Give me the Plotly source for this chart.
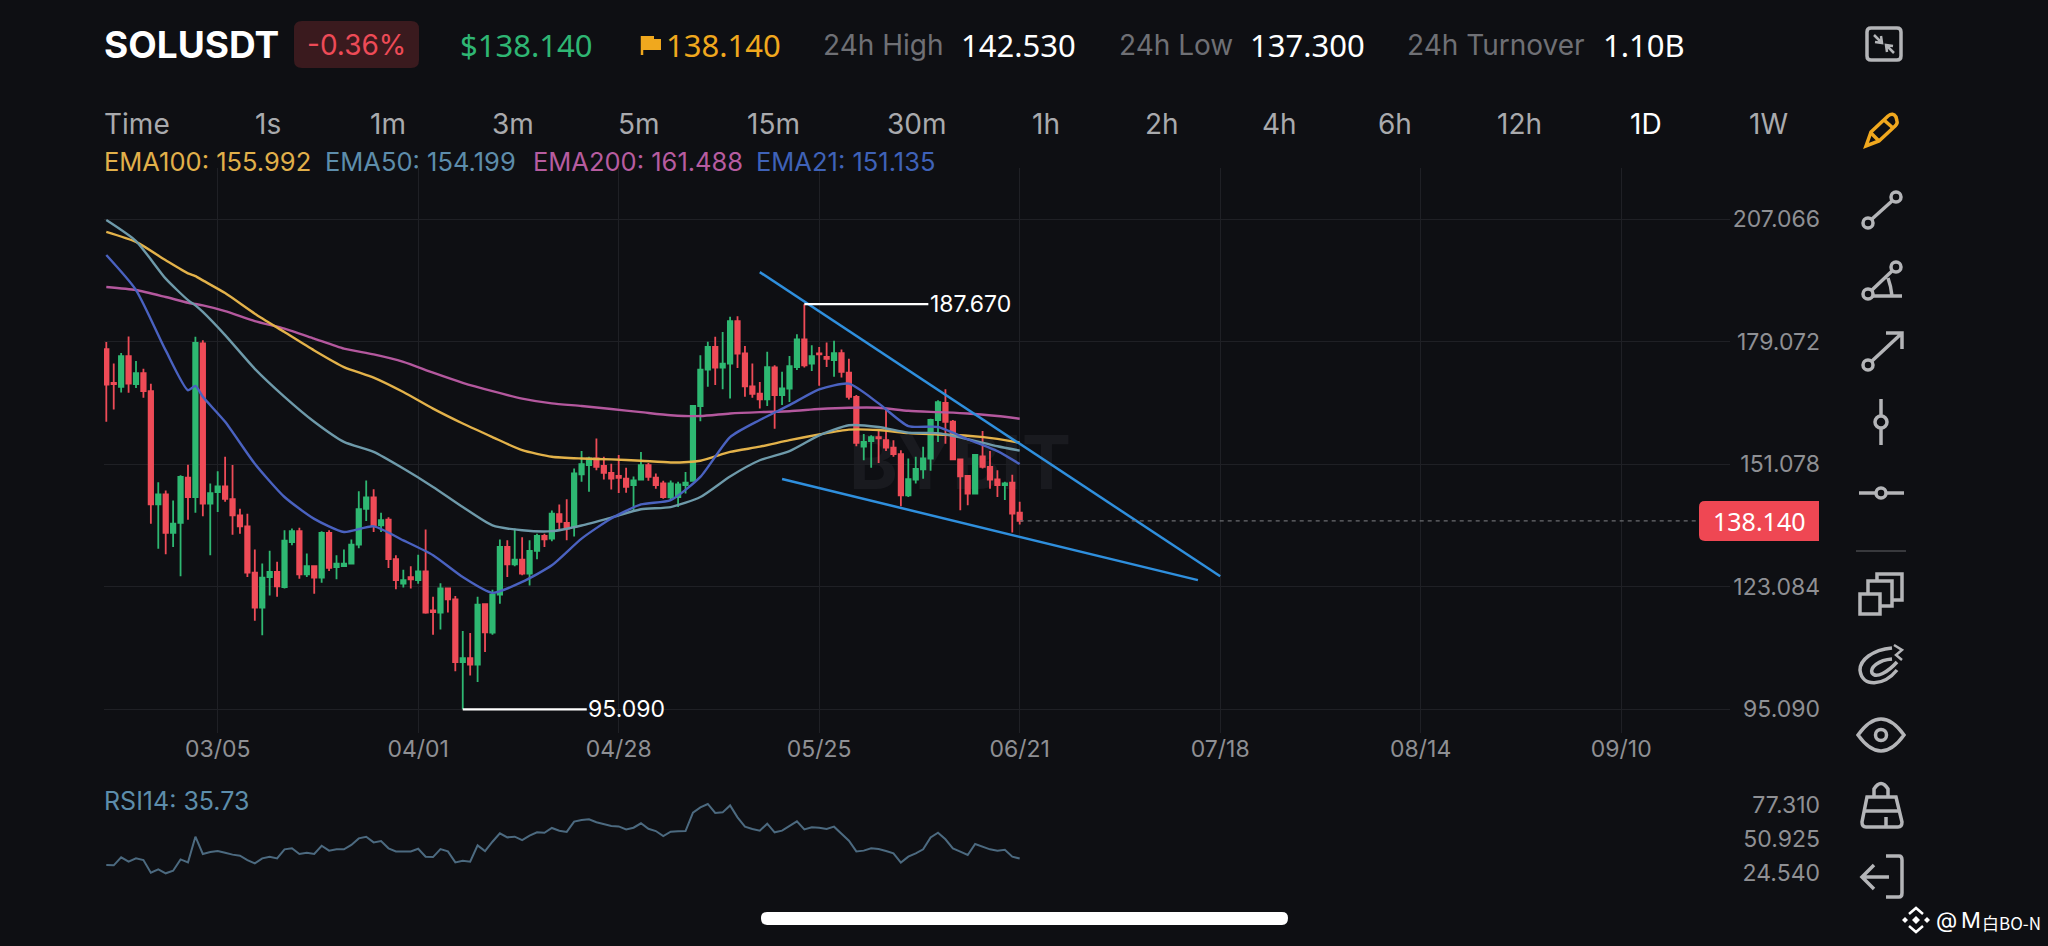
import re
import pandas as pd
import plotly.graph_objects as go

W, H = 2048, 946
FONT = "Inter"
NUM_FONT = "Noto Sans"

START_DATE = "2025-02-18"
OPEN = [177.4,169.7,168.8,175.8,169.4,171.9,167.8,141.9,144.2,135.4,137.7,148.0,143.6,178.7,142.1,144.7,146.0,143.1,139.4,136.9,
126.3,118.3,125.3,126.5,123.0,133.3,135.8,125.9,127.8,125.2,135.4,127.6,127.8,128.4,132.7,140.9,143.5,137.1,138.4,129.4,
123.8,125.3,124.6,126.6,117.7,117.2,122.7,120.2,105.9,106.8,105.3,119.1,112.6,121.3,132.2,128.2,129.3,126.1,131.3,134.7,
134.1,139.7,137.7,136.8,148.8,150.9,152.4,150.7,149.1,148.4,147.8,146.3,147.6,150.9,148.0,146.7,143.5,143.6,146.3,147.3,
164.4,172.7,177.9,173.2,174.1,183.8,176.4,168.9,167.2,165.9,173.2,166.9,168.4,173.3,179.6,174.1,176.4,175.6,174.9,176.5,
172.0,166.5,155.1,156.4,157.3,156.6,154.9,153.4,144.0,147.6,149.9,152.4,161.2,165.1,160.8,152.2,148.4,144.4,152.9,150.5,
147.6,146.3,146.9,140.0]
HIGH = [179.0,174.1,176.5,180.3,174.7,172.9,169.5,147.0,145.1,142.8,148.6,151.0,180.2,179.4,146.7,149.5,152.8,150.9,140.9,139.8,
131.6,128.4,131.3,128.8,136.0,136.4,136.6,130.7,128.0,135.8,136.0,130.3,131.6,133.9,144.9,147.4,145.4,140.0,139.0,130.3,
127.0,127.8,130.4,136.2,120.8,123.9,122.7,121.0,113.0,112.5,120.8,119.2,122.4,133.9,133.7,136.4,134.4,133.7,135.2,135.2,
140.5,141.9,143.1,150.1,154.1,152.8,157.0,152.8,151.2,153.2,150.3,148.3,153.9,151.4,149.0,147.3,147.4,147.1,149.3,164.4,
176.0,179.1,180.2,181.3,184.8,184.9,178.1,174.1,169.9,176.8,173.7,172.2,175.8,180.8,187.67,178.3,177.9,178.9,179.3,177.3,
175.2,166.9,158.0,157.7,158.9,163.8,156.6,154.3,152.4,152.8,155.1,161.5,165.7,168.2,161.2,152.4,148.6,153.4,158.7,154.1,
149.7,147.1,148.7,142.53]
LOW = [160.8,163.6,167.5,167.4,168.5,166.3,137.5,131.8,130.5,132.2,125.5,138.4,140.0,139.2,130.3,140.2,142.5,135.0,135.2,125.3,
115.3,112.0,121.1,120.8,122.7,132.6,124.9,125.3,121.5,124.0,126.7,124.8,127.8,128.2,131.9,138.1,135.6,135.6,127.4,122.5,
122.9,122.7,123.8,116.9,112.1,113.3,117.2,103.8,95.09,102.8,101.3,108.2,112.1,119.2,125.3,127.8,125.7,123.4,129.4,132.2,
133.5,136.0,133.7,134.6,147.1,144.8,149.7,147.6,145.3,144.5,144.6,140.6,147.4,147.3,145.5,143.2,143.0,141.3,144.4,147.1,
160.9,168.8,169.2,168.2,166.1,173.1,166.5,166.3,163.8,164.4,159.2,164.6,165.3,172.6,173.2,172.4,169.0,173.3,171.1,170.9,
165.9,155.2,152.0,150.3,151.4,154.1,152.8,141.5,143.6,146.7,147.8,149.6,156.2,155.8,152.0,140.6,141.7,144.2,150.1,145.5,
143.6,142.9,135.5,137.3]
CLOSE = [169.3,169.4,175.8,169.5,171.9,167.8,141.9,144.2,135.4,137.5,148.2,143.6,178.8,142.1,144.5,146.0,143.2,139.4,136.9,126.3,
118.3,125.2,126.5,123.2,133.6,135.8,125.9,127.8,125.2,135.4,127.4,128.4,128.4,132.7,140.8,143.5,137.1,138.3,129.4,124.6,
124.6,124.8,126.6,117.2,117.3,122.7,120.2,105.9,106.8,105.3,119.0,112.7,121.3,132.2,128.2,129.3,126.1,131.3,134.7,133.9,
139.8,137.9,136.4,149.0,151.1,152.4,150.5,149.1,147.8,148.0,145.9,147.4,150.9,148.2,146.3,143.6,146.7,146.5,146.9,164.4,
172.7,177.9,173.2,174.1,183.8,176.4,168.9,167.2,165.9,173.3,166.9,168.4,173.5,179.6,173.7,175.8,176.2,175.2,176.5,172.2,
166.5,156.0,156.2,157.3,157.0,154.9,153.4,144.0,147.7,150.0,152.4,161.2,165.3,160.8,152.2,148.3,144.4,153.2,150.5,147.6,
146.3,146.7,139.8,138.14]

# Candle numbers the moving averages were read at
EMA_AT = [0,4,8,11,12,13,16,20,24,28,32,36,40,44,48,52,56,60,64,68,72,76,80,84,88,92,96,100,104,108,112,116,120,123]
EMA21 = [198.9,190.9,177.1,168.0,169.0,166.5,160.8,151.2,143.6,138.6,135.6,136.9,133.7,130.3,125.3,121.7,124.2,128.0,134.1,138.7,141.9,142.9,148.2,157.3,161.2,164.6,168.2,169.5,165.0,159.8,159.6,156.8,154.1,151.135]
EMA50 = [206.9,202.1,193.5,188.6,187.4,185.9,180.6,172.9,166.5,160.8,156.2,153.9,150.1,145.9,141.3,137.1,136.0,135.8,137.1,138.9,140.8,141.3,143.6,148.3,152.0,154.1,157.7,160.0,159.6,158.3,158.2,156.8,155.2,154.199]
EMA100 = [204.2,201.9,197.7,194.7,194.1,193.1,190.2,185.5,181.3,177.1,173.3,170.9,167.6,163.8,160.4,157.3,154.3,152.8,152.4,152.2,151.9,151.5,151.9,153.9,155.1,156.6,157.9,159.0,158.9,158.2,157.9,157.6,156.9,155.992]
EMA200 = [191.6,190.9,189.3,188.0,187.7,187.4,186.1,183.8,182.1,179.8,177.5,176.2,174.5,172.0,169.7,167.8,166.1,165.0,164.4,163.7,163.0,162.3,162.1,162.7,163.0,163.2,163.7,164.0,164.0,163.3,163.0,162.7,162.1,161.488]

RSI14 = [30.7,30.5,36.7,33.3,35.9,34.6,24.8,27.4,24.3,26.3,35.1,32.8,52.7,39.3,40.8,41.6,40.3,38.8,38.0,34.6,
32.0,35.9,37.2,35.9,42.9,43.7,39.3,40.3,39.3,45.7,41.9,42.9,42.9,46.3,51.4,52.7,48.3,49.4,43.7,41.3,
41.3,41.3,43.4,37.2,36.9,43.1,41.3,32.8,34.1,33.3,46.0,41.6,48.8,55.3,52.2,52.7,50.1,53.5,56.1,55.8,
59.5,57.4,56.4,64.4,65.7,66.2,63.9,62.3,61.0,60.7,58.4,59.7,63.1,58.9,57.1,53.2,56.6,56.9,57.1,71.4,
75.5,78.1,71.1,71.6,77.0,67.7,60.5,58.7,57.4,62.8,56.1,57.4,61.0,64.6,58.4,60.0,59.7,58.7,60.5,55.3,
49.6,41.3,41.9,43.7,43.2,41.6,39.8,32.6,37.2,39.8,42.9,52.2,55.8,50.7,43.7,41.1,38.5,47.0,45.0,42.9,
41.9,42.6,37.2,35.73]

PRICE_TICKS = [207.066,179.072,151.078,123.084,95.09]
PRICE_LABELS = ["207.066","179.072","151.078","123.084","95.090"]
RSI_TICKS = [77.31,50.925,24.54]
RSI_LABELS = ["77.310","50.925","24.540"]
DATE_TICKS = ["2025-03-05","2025-04-01","2025-04-28","2025-05-25","2025-06-21","2025-07-18","2025-08-14","2025-09-10"]
DATE_LABELS = ["03/05","04/01","04/28","05/25","06/21","07/18","08/14","09/10"]
INTERVALS = ["1s","1m","3m","5m","15m","30m","1h","2h","4h","6h","12h","1D","1W"]
INTERVAL_CENTERS = [268,388,513,639,773,917,1046,1162,1279,1395,1519,1646,1768]

TREND_UPPER = [("2025-05-17", 195.0), ("2025-07-18", 125.5)]
TREND_LOWER = [("2025-05-20", 147.7), ("2025-07-15", 124.6)]

BG = "#0e0f13"
GRID = "#1f2025"
GREEN = "#2eb872"
RED = "#ee4b57"
ICON = "#b4b5b8"

dates = pd.date_range(START_DATE, periods=len(CLOSE), freq="D")
ema_dates = dates[EMA_AT]
XRANGE = ["2025-02-17 16:34", "2025-09-24 15:36"]


def fx(px):
    return px / W


def fy(py):
    return 1 - py / H


def pth(s):
    return re.sub(r"(-?[\d.]+),(-?[\d.]+)",
                  lambda m: f"{float(m[1]) / W:.5f},{1 - float(m[2]) / H:.5f}", s)


shapes = []
annotations = []


def icon(s, color=ICON, width=3.5, fill=None):
    d = dict(type="path", xref="paper", yref="paper", path=pth(s),
             line=dict(color=color, width=width), layer="above")
    if fill:
        d["fillcolor"] = fill
    shapes.append(d)


def ring(cx, cy, r, color=ICON, width=3.5):
    shapes.append(dict(type="circle", xref="paper", yref="paper",
                       x0=fx(cx - r), x1=fx(cx + r), y0=fy(cy + r), y1=fy(cy - r),
                       line=dict(color=color, width=width), fillcolor=BG, layer="above"))


def text(x, y, s, color, size, anchor="left", bold=False, family=FONT):
    annotations.append(dict(xref="paper", yref="paper", x=fx(x), y=fy(y), text=f"<b>{s}</b>" if bold else s,
                            showarrow=False, xanchor=anchor, yanchor="middle", align=anchor,
                            font=dict(color=color, size=size, family=family), borderpad=0))


# Header
text(103, 45, "SOLUSDT", "#ffffff", 37, bold=True)
icon("M302,21 L411,21 Q419,21 419,29 L419,60 Q419,68 411,68 L302,68 Q294,68 294,60 L294,29 Q294,21 302,21 Z",
     color="rgba(0,0,0,0)", width=0, fill="#3a1a1e")
text(356, 45, "-0.36%", RED, 28, anchor="center")
text(459, 45, "$138.140", "#2fb673", 31, family=NUM_FONT)
icon("M642,36 L642,55", color="#f0a81e", width=2.5)
icon("M642,36 L654,36 L654,39 L661,39 L661,50 L642,50 Z", color="#f0a81e", width=0, fill="#f0a81e")
text(665, 45, "138.140", "#f0a81e", 31, family=NUM_FONT)
text(822, 45, "24h High", "#6f7075", 28)
text(960, 45, "142.530", "#ffffff", 31, family=NUM_FONT)
text(1118, 45, "24h Low", "#6f7075", 28)
text(1249, 45, "137.300", "#ffffff", 31, family=NUM_FONT)
text(1406, 45, "24h Turnover", "#6f7075", 28)
text(1602, 45, "1.10B", "#ffffff", 31, family=NUM_FONT)

# Interval row
text(103, 124, "Time", "#a9aaad", 28)
for label, cx in zip(INTERVALS, INTERVAL_CENTERS):
    text(cx, 124, label, "#ffffff" if label == "1D" else "#a9aaad", 28, anchor="center")

# Legend row
text(103, 161, f"EMA100: {EMA100[-1]:.3f}", "#e1b04a", 25.5)
text(324, 161, f"EMA50: {EMA50[-1]:.3f}", "#5d8dab", 25.5)
text(532, 161, f"EMA200: {EMA200[-1]:.3f}", "#b75ca0", 25.5)
text(755, 161, f"EMA21: {EMA21[-1]:.3f}", "#3f62b8", 25.5)
text(103, 801, f"RSI14: {RSI14[-1]:.2f}", "#5d8dab", 25)

# Watermark inside the chart
shapes.append(dict(type="rect", xref="paper", yref="paper", x0=fx(840), x1=fx(1080), y0=fy(490), y1=fy(430),
                   line=dict(width=0), fillcolor="rgba(0,0,0,0)", layer="below",
                   label=dict(text="<b>BYBIT</b>", font=dict(color="#191a1f", size=74, family=FONT),
                              textposition="middle center")))

# Drawn trend lines and last price line
for seg in (TREND_UPPER, TREND_LOWER):
    shapes.append(dict(type="line", xref="x", yref="y", x0=seg[0][0], y0=seg[0][1], x1=seg[1][0], y1=seg[1][1],
                       line=dict(color="#2f8fdd", width=2.5), layer="above"))
shapes.append(dict(type="line", xref="x", yref="y", x0=dates[-1], x1="2025-09-20 12:00", y0=CLOSE[-1], y1=CLOSE[-1],
                   line=dict(color="#6b6c70", width=1.2, dash="4px,4px"), layer="above"))

# Last price tag
icon("M1705,501 L1819,501 L1819,541 L1705,541 Q1699,541 1699,535 L1699,507 Q1699,501 1705,501 Z",
     color="rgba(0,0,0,0)", width=0, fill="#ef4753")
annotations.append(dict(xref="paper", yref="y", x=fx(1759), y=CLOSE[-1], text=f"{CLOSE[-1]:.3f}", showarrow=False,
                        xanchor="center", yanchor="middle", font=dict(color="#ffffff", size=25, family=NUM_FONT)))

# High and low labels
imax = HIGH.index(max(HIGH))
imin = LOW.index(min(LOW))
annotations.append(dict(x=dates[imax], y=HIGH[imax], xref="x", yref="y", text=f"{HIGH[imax]:.3f}", showarrow=True,
                        arrowhead=0, arrowwidth=2.2, arrowcolor="#ffffff", ax=166, ay=0, xanchor="center",
                        yanchor="middle", font=dict(color="#ffffff", size=23, family=FONT)))
annotations.append(dict(x=dates[imin], y=LOW[imin], xref="x", yref="y", text=f"{LOW[imin]:.3f}", showarrow=True,
                        arrowhead=0, arrowwidth=2.2, arrowcolor="#ffffff", ax=164, ay=0, xanchor="center",
                        yanchor="middle", font=dict(color="#ffffff", size=23, family=FONT)))

# Toolbar icons
icon("M1871,28 L1897,28 Q1901,28 1901,32 L1901,56 Q1901,60 1897,60 L1871,60 Q1867,60 1867,56 L1867,32 Q1867,28 1871,28 Z")
icon("M1874,35 L1882,43 M1875,42 L1882,43 L1881,36", width=2.5)
icon("M1894,53 L1886,45 M1893,46 L1886,45 L1887,52", width=2.5)
icon("M1866,146 L1871,132 L1888,116 Q1893,112 1896,117 L1897,121 Q1898,124 1893,128 L1879,141 Z", color="#f0a81e")
icon("M1884,120 L1893,128 M1871,133 L1879,141", color="#f0a81e")
icon("M1872,219 L1892,201")
ring(1868, 223, 5)
ring(1896, 197, 5)
icon("M1872,290 L1892,271 M1873,296 L1902,296 M1888,278 Q1891,286 1892,296")
ring(1868, 294, 5)
ring(1896, 267, 5)
icon("M1872,361 L1901,334 M1886,333 L1902,333 L1902,349")
ring(1868, 365, 5)
icon("M1881,399 L1881,445")
ring(1881, 422, 6)
icon("M1859,493 L1904,493")
ring(1881, 493, 5)
icon("M1856,551 L1906,551", color="#47484c", width=1.5)
icon("M1877,581 L1877,574 L1902,574 L1902,600 L1892,600")
icon("M1868,594 L1868,581 L1892,581 L1892,606 L1880,606")
icon("M1860,594 L1880,594 L1880,614 L1860,614 Z")
icon("M1892,648 C1872,650 1860,660 1860,670 C1862,688 1884,686 1897,670")
icon("M1892,659 C1878,660 1870,668 1872,673 C1876,679 1888,672 1897,662")
icon("M1894,645 L1902,650 L1896,655 L1902,660", width=2.5)
icon("M1858,735 Q1881,703 1904,735 Q1881,767 1858,735 Z")
ring(1881, 735, 5.5)
icon("M1874,797 L1874,789 Q1881,778 1888,789 L1888,797")
icon("M1867,797 L1896,797 L1902,822 Q1902,827 1898,827 L1866,827 Q1862,827 1862,822 Z")
icon("M1864,811 L1899,811 M1886,817 L1886,827")
icon("M1886,856 L1899,856 Q1902,856 1902,860 L1902,893 Q1902,897 1899,897 L1886,897")
icon("M1862,877 L1889,877 M1874,865 L1862,877 L1874,889")

# Home indicator
icon("M767,912 L1282,912 Q1288,912 1288,918 Q1288,925 1282,925 L767,925 Q761,925 761,918 Q761,912 767,912 Z",
     color="rgba(0,0,0,0)", width=0, fill="#ffffff")

# Corner credit
for s in ("M1905,917 L1908,920 L1905,923 L1902,920 Z", "M1927,917 L1930,920 L1927,923 L1924,920 Z",
          "M1916,916 L1920,920 L1916,924 L1912,920 Z"):
    icon(s, color="#ffffff", width=0, fill="#ffffff")
icon("M1909,914 L1916,908 L1923,914 M1909,926 L1916,932 L1923,926", color="#ffffff", width=2.5)
text(1935, 920, "@", "#ffffff", 22)
text(1960, 920, "M", "#ffffff", 22)
text(1981, 922, "白BO-N", "#ffffff", 17, family="Noto Sans CJK SC")

fig = go.Figure()
fig.add_trace(go.Candlestick(x=dates, open=OPEN, high=HIGH, low=LOW, close=CLOSE, whiskerwidth=0,
                             increasing=dict(line=dict(color=GREEN, width=1.8), fillcolor=GREEN),
                             decreasing=dict(line=dict(color=RED, width=1.8), fillcolor=RED),
                             hoverinfo="skip", showlegend=False))
for vals, color in ((EMA200, "#b4589e"), (EMA100, "#e3b24a"), (EMA50, "#6e9aaa"), (EMA21, "#4a62c0")):
    fig.add_trace(go.Scatter(x=ema_dates, y=vals, mode="lines", hoverinfo="skip", showlegend=False,
                             line=dict(color=color, width=2.4, shape="spline", smoothing=0.6)))
fig.add_trace(go.Scatter(x=dates, y=RSI14, mode="lines", xaxis="x2", yaxis="y2", hoverinfo="skip", showlegend=False,
                         line=dict(color="#4c6a80", width=2)))

X_DOMAIN = [fx(104), fx(1730)]
AX_FONT = dict(color="#8f9094", size=23, family=FONT)
fig.update_layout(
    width=W, height=H, margin=dict(l=0, r=0, t=0, b=0, autoexpand=False), paper_bgcolor=BG, plot_bgcolor=BG,
    showlegend=False, hovermode=False, dragmode=False, shapes=shapes, annotations=annotations,
    boxgap=0.15,
    xaxis=dict(domain=X_DOMAIN, range=XRANGE, type="date", anchor="y", tickmode="array", tickvals=DATE_TICKS,
               ticktext=DATE_LABELS, showgrid=True, gridcolor=GRID, gridwidth=1.2, zeroline=False, showline=False,
               ticks="", tickfont=AX_FONT, rangeslider=dict(visible=False), fixedrange=True),
    yaxis=dict(domain=[fy(733), fy(168)], range=[89.67, 218.79], anchor="free", side="left", position=fx(1820),
               tickmode="array", tickvals=PRICE_TICKS, ticktext=PRICE_LABELS, showgrid=True, gridcolor=GRID,
               gridwidth=1.2, zeroline=False, showline=False, ticks="", tickfont=AX_FONT, fixedrange=True),
    xaxis2=dict(domain=X_DOMAIN, range=XRANGE, type="date", anchor="y2", showticklabels=False, showgrid=False,
                zeroline=False, showline=False, ticks="", fixedrange=True),
    yaxis2=dict(domain=[fy(880), fy(800)], range=[19.11, 81.19], anchor="free", side="left", position=fx(1820),
                tickmode="array", tickvals=RSI_TICKS, ticktext=RSI_LABELS, showgrid=False, zeroline=False,
                showline=False, ticks="", tickfont=AX_FONT, fixedrange=True),
)
PAGE_JS = ("document.body.style.margin='0';document.body.style.background='%s';document.body.style.overflow='hidden';" % BG)
fig.write_html("out.html", config={"displayModeBar": False}, post_script=PAGE_JS)
